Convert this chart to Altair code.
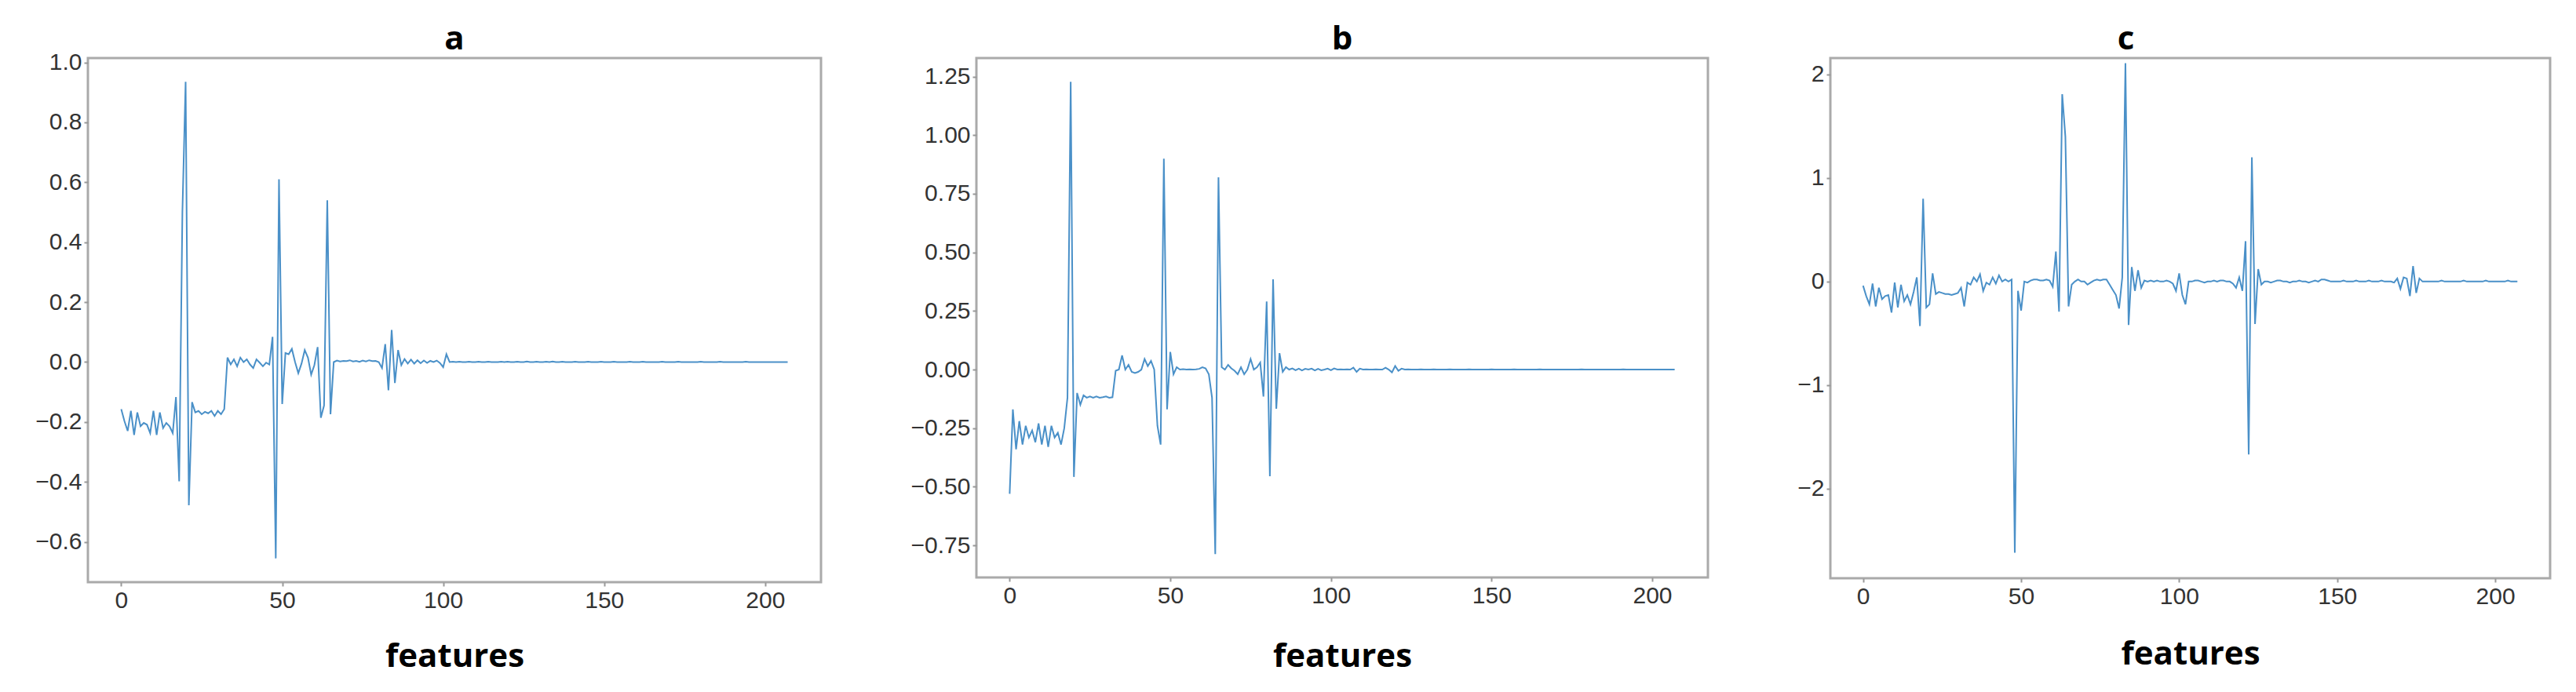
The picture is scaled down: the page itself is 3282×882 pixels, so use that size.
import altair as alt
import pandas as pd

features = list(range(208))

a_vals = [
    -0.157, -0.197, -0.230, -0.163, -0.243, -0.168, -0.214, -0.203, -0.209, -0.237,
    -0.163, -0.243, -0.168, -0.220, -0.203, -0.214, -0.237, -0.117, -0.398, 0.500,
    0.935, -0.478, -0.134, -0.168, -0.163, -0.174, -0.166, -0.171, -0.163, -0.180,
    -0.163, -0.174, -0.157, 0.015, -0.008, 0.009, -0.014, 0.015, 0.000, 0.009,
    -0.008, -0.020, 0.009, -0.002, -0.014, -0.002, -0.008, 0.084, -0.655, 0.610,
    -0.140, 0.030, 0.026, 0.044, 0.000, -0.037, -0.005, 0.040, 0.015, -0.042,
    -0.010, 0.050, -0.186, -0.145, 0.540, -0.174, 0.000, 0.005, 0.002, 0.004,
    0.003, 0.006, 0.002, 0.004, 0.001, 0.005, 0.002, 0.006, 0.003, 0.004,
    0.000, -0.020, 0.060, -0.094, 0.107, -0.070, 0.040, -0.010, 0.010, -0.005,
    0.008, -0.005, 0.006, -0.004, 0.005, -0.003, 0.004, 0.000, 0.005, -0.003,
    -0.017, 0.026, 0.000, 0.001, 0.000, 0.001, 0.000, 0.000, 0.001, 0.000,
    0.000, 0.001, 0.000, 0.000, 0.001, 0.000, 0.000, 0.000, 0.001, 0.000,
    0.001, 0.000, 0.000, 0.001, 0.000, 0.000, 0.002, 0.000, 0.000, 0.001,
    0.000, 0.000, 0.001, 0.000, 0.002, 0.000, 0.000, 0.001, 0.000, 0.000,
    0.000, 0.001, 0.000, 0.000, 0.000, 0.001, 0.000, 0.000, 0.000, 0.001,
    0.000, 0.000, 0.000, 0.001, 0.000, 0.000, 0.000, 0.000, 0.001, 0.000,
    0.000, 0.000, 0.001, 0.000, 0.000, 0.000, 0.000, 0.000, 0.001, 0.000,
    0.000, 0.000, 0.000, 0.001, 0.000, 0.000, 0.000, 0.000, 0.000, 0.000,
    0.001, 0.000, 0.000, 0.000, 0.000, 0.000, 0.001, 0.000, 0.000, 0.000,
    0.000, 0.000, 0.000, 0.000, 0.001, 0.000, 0.000, 0.000, 0.000, 0.000,
    0.000, 0.000, 0.000, 0.000, 0.000, 0.000, 0.000, 0.000,
]

b_vals = [
    -0.530, -0.170, -0.340, -0.220, -0.320, -0.240, -0.290, -0.260, -0.310, -0.230,
    -0.320, -0.240, -0.330, -0.240, -0.290, -0.270, -0.320, -0.250, -0.120, 1.228,
    -0.458, -0.100, -0.150, -0.110, -0.120, -0.115, -0.120, -0.115, -0.120, -0.118,
    -0.115, -0.120, -0.118, -0.005, 0.000, 0.060, 0.000, 0.020, -0.010, -0.015,
    -0.010, 0.000, 0.045, 0.015, 0.037, 0.000, -0.240, -0.320, 0.900, -0.170,
    0.075, -0.020, 0.010, 0.000, 0.002, 0.000, 0.001, 0.000, 0.001, 0.003,
    0.010, 0.005, -0.020, -0.120, -0.787, 0.820, 0.010, 0.000, 0.020, 0.005,
    -0.005, -0.020, 0.010, -0.020, 0.000, 0.045, 0.000, 0.010, 0.030, -0.115,
    0.290, -0.455, 0.385, -0.167, 0.070, -0.010, 0.010, 0.000, 0.005, -0.003,
    0.004, -0.004, 0.003, 0.000, 0.004, -0.004, 0.003, -0.003, 0.000, 0.004,
    -0.003, 0.005, 0.000, 0.001, 0.000, 0.001, 0.000, 0.008, -0.010, 0.004,
    0.000, 0.001, 0.000, 0.000, 0.001, 0.000, 0.000, 0.008, 0.000, -0.012,
    0.015, -0.005, 0.004, 0.000, 0.001, 0.000, 0.000, 0.000, 0.001, 0.000,
    0.000, 0.000, 0.001, 0.000, 0.000, 0.000, 0.000, 0.001, 0.000, 0.000,
    0.000, 0.000, 0.000, 0.001, 0.000, 0.000, 0.000, 0.000, 0.000, 0.000,
    0.001, 0.000, 0.000, 0.000, 0.000, 0.000, 0.000, 0.001, 0.000, 0.000,
    0.000, 0.000, 0.000, 0.000, 0.000, 0.001, 0.000, 0.000, 0.000, 0.000,
    0.000, 0.000, 0.000, 0.000, 0.000, 0.000, 0.000, 0.000, 0.001, 0.000,
    0.000, 0.000, 0.000, 0.000, 0.000, 0.000, 0.000, 0.000, 0.000, 0.000,
    0.000, 0.001, 0.000, 0.000, 0.000, 0.000, 0.000, 0.000, 0.000, 0.000,
    0.000, 0.000, 0.000, 0.000, 0.000, 0.000, 0.000, 0.000,
]

c_vals = [
    -0.04, -0.14, -0.22, -0.02, -0.24, -0.06, -0.17, -0.14, -0.13, -0.30,
    -0.01, -0.25, -0.03, -0.19, -0.13, -0.22, -0.10, 0.04, -0.43, 0.80,
    -0.25, -0.22, 0.08, -0.12, -0.10, -0.11, -0.12, -0.12, -0.13, -0.12,
    -0.11, -0.06, -0.24, -0.01, -0.03, 0.04, 0.00, 0.07, -0.09, -0.01,
    -0.03, 0.04, -0.02, 0.06, 0.00, 0.02, 0.00, 0.02, -2.62, -0.09,
    -0.28, 0.00, -0.01, 0.01, 0.02, 0.02, 0.01, 0.01, 0.02, 0.01,
    -0.05, 0.29, -0.29, 1.81, 1.40, -0.24, -0.03, 0.00, 0.02, 0.00,
    0.00, -0.03, -0.01, 0.01, 0.02, 0.01, 0.02, 0.02, -0.03, -0.08,
    -0.13, -0.26, 0.04, 2.11, -0.42, 0.14, -0.09, 0.11, -0.06, 0.01,
    0.00, 0.01, 0.00, 0.01, 0.00, 0.00, 0.01, 0.00, -0.02, -0.09,
    0.08, -0.13, -0.22, 0.00, 0.00, 0.01, 0.01, 0.00, -0.01, 0.00,
    0.00, 0.01, 0.00, 0.01, 0.01, 0.00, 0.00, -0.02, -0.06, 0.04,
    -0.09, 0.39, -1.67, 1.20, -0.41, 0.12, -0.03, 0.00, 0.00, -0.01,
    0.00, 0.01, 0.01, 0.00, 0.00, -0.01, 0.00, 0.00, 0.01, 0.00,
    0.00, -0.01, 0.00, 0.01, 0.00, 0.02, 0.02, 0.01, 0.00, 0.00,
    0.00, 0.00, 0.01, 0.00, 0.00, 0.00, 0.01, 0.00, 0.00, 0.00,
    0.01, 0.00, 0.00, 0.00, 0.01, 0.00, 0.00, 0.00, -0.01, 0.03,
    -0.07, 0.04, 0.03, -0.14, 0.15, -0.11, 0.03, 0.00, 0.00, 0.00,
    0.00, 0.00, 0.00, 0.01, 0.00, 0.00, 0.00, 0.00, 0.00, 0.00,
    0.01, 0.00, 0.00, 0.00, 0.00, 0.00, 0.00, 0.01, 0.00, 0.00,
    0.00, 0.00, 0.00, 0.00, 0.01, 0.00, 0.00, 0.00,
]

x_ticks = [0, 50, 100, 150, 200]
a_ticks = [-0.6, -0.4, -0.2, 0.0, 0.2, 0.4, 0.6, 0.8, 1.0]
b_ticks = [-0.75, -0.5, -0.25, 0.0, 0.25, 0.5, 0.75, 1.0, 1.25]
c_ticks = [-2, -1, 0, 1, 2]

LINE = "#4a90c8"
TICKFONT = "Liberation Sans"
TITLEFONT = "Open Sans"


def panel(vals, name, ydomain, yticks, yfmt, w, h, toff, tdx, xpad):
    df = pd.DataFrame({"feature": features, "value": vals})
    ttl = alt.Title(name, fontSize=42, font=TITLEFONT, fontWeight="bold",
                    color="black", offset=toff, dx=tdx, frame="group", anchor="middle")
    return alt.Chart(df, title=ttl).mark_line(color=LINE, strokeWidth=2).encode(
        x=alt.X("feature:Q",
                scale=alt.Scale(domain=[-10.35, 217.35], nice=False, zero=False),
                axis=alt.Axis(values=x_ticks, format="d", title="features",
                              titlePadding=xpad)),
        y=alt.Y("value:Q",
                scale=alt.Scale(domain=ydomain, nice=False, zero=False),
                axis=alt.Axis(values=yticks, format=yfmt, title=None)),
    ).properties(width=w, height=h)


pa = panel(a_vals, "a", [-0.7345, 1.0145], a_ticks, ".1f", 934, 668, -7, 0, 36)
pb = panel(b_vals, "b", [-0.887, 1.329], b_ticks, ".2f", 932, 662, 2, 0, 42)
pc = panel(c_vals, "c", [-2.866, 2.159], c_ticks, "d", 917, 663, 2, -82, 38)

chart = alt.hconcat(pa, pb, pc, spacing=110).properties(
    padding={"left": 35, "top": 19, "right": 5, "bottom": 5}
).configure_view(
    stroke="#aaaaaa", strokeWidth=3
).configure_axis(
    grid=False, domain=False,
    labelFont=TICKFONT, labelFontSize=30, labelColor="#333333",
    tickColor="#999999", tickSize=5, tickWidth=2, labelPadding=3,
    titleFont=TITLEFONT, titleFontSize=42, titleFontWeight="bold", titleColor="black",
)

chart.save("out.html", embed_options={"renderer": "svg", "actions": False})
